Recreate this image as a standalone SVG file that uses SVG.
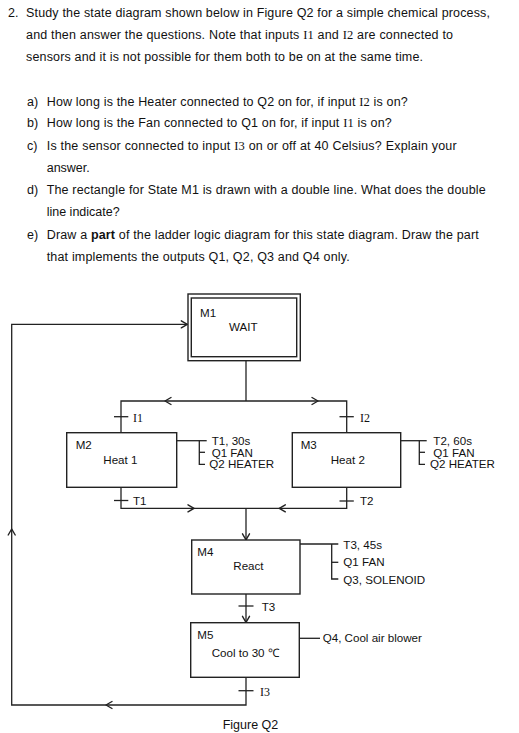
<svg xmlns="http://www.w3.org/2000/svg" xmlns:xlink="http://www.w3.org/1999/xlink" width="519" height="733" viewBox="0 0 519 733">
<style>
  .q { font-family: "Liberation Sans", Arial, sans-serif; font-size: 12.5px; fill: #111; }
  .s { font-family: "Liberation Serif", "Times New Roman", serif; }
  .lbl { font-family: "Liberation Sans", Arial, sans-serif; font-size: 11.6px; fill: #111; }
  .ser { font-family: "Liberation Serif", "Times New Roman", serif; font-size: 12px; fill: #111; }
  .box { fill: #fff; stroke: #222; stroke-width: 1.4; }
  .ln { fill: none; stroke: #222; stroke-width: 1.3; }
  .chev { fill: none; stroke: #222; stroke-width: 1.4; stroke-linejoin: round; stroke-linecap: round; }
</style>
<defs>
  <path id="chev" class="chev" d="M-6,-3.5 L0,0 L-6,3.5"/>
</defs>
<rect width="519" height="733" fill="#fff"/>

<g id="question">
  <text class="q" x="8" y="17">2.</text>
  <text class="q" x="26" y="17" textLength="464" lengthAdjust="spacing">Study the state diagram shown below in Figure Q2 for a simple chemical process,</text>
  <text class="q" x="26" y="39" textLength="427" lengthAdjust="spacing">and then answer the questions. Note that inputs <tspan class="s">I1</tspan> and <tspan class="s">I2</tspan> are connected to</text>
  <text class="q" x="26" y="61" textLength="397" lengthAdjust="spacing">sensors and it is not possible for them both to be on at the same time.</text>

  <text class="q" x="27" y="105.5">a)</text>
  <text class="q" x="46.7" y="105.5" textLength="361" lengthAdjust="spacing">How long is the Heater connected to Q2 on for, if input <tspan class="s">I2</tspan> is on?</text>
  <text class="q" x="27" y="127">b)</text>
  <text class="q" x="46.7" y="127" textLength="345" lengthAdjust="spacing">How long is the Fan connected to Q1 on for, if input <tspan class="s">I1</tspan> is on?</text>
  <text class="q" x="27" y="150">c)</text>
  <text class="q" x="46.7" y="150" textLength="410" lengthAdjust="spacing">Is the sensor connected to input <tspan class="s">I3</tspan> on or off at 40 Celsius?  Explain your</text>
  <text class="q" x="46.7" y="172">answer.</text>
  <text class="q" x="27" y="194">d)</text>
  <text class="q" x="46.7" y="194" textLength="439" lengthAdjust="spacing">The rectangle for State M1 is drawn with a double line. What does the double</text>
  <text class="q" x="46.7" y="216">line indicate?</text>
  <text class="q" x="27" y="238.5">e)</text>
  <text class="q" x="46.7" y="238.5" textLength="432" lengthAdjust="spacing">Draw a <tspan font-weight="bold">part</tspan> of the ladder logic diagram for this state diagram. Draw the part</text>
  <text class="q" x="46.7" y="260.5" textLength="303" lengthAdjust="spacing">that implements the outputs Q1, Q2, Q3 and Q4 only.</text>
</g>

<g id="connectors">
  <!-- loop back to M1 -->
  <polyline class="ln" points="246,677.3 246,705 11.7,705 11.7,324.3 187.5,324.3"/>
  <use xlink:href="#chev" href="#chev" transform="translate(187.3,324.3)"/>
  <use xlink:href="#chev" href="#chev" transform="translate(106,705) rotate(180)"/>
  <use xlink:href="#chev" href="#chev" transform="translate(11.7,529) rotate(-90)"/>
  <!-- M1 split -->
  <line class="ln" x1="246" y1="360.7" x2="246" y2="401"/>
  <polyline class="ln" points="121,432.7 121,401 346.7,401 346.7,432.7"/>
  <use xlink:href="#chev" href="#chev" transform="translate(165,401) rotate(180)"/>
  <use xlink:href="#chev" href="#chev" transform="translate(318,401)"/>
  <!-- merge into M4 -->
  <polyline class="ln" points="121,487.3 121,508.3 346.7,508.3 346.7,487.3"/>
  <use xlink:href="#chev" href="#chev" transform="translate(194,508.3)"/>
  <use xlink:href="#chev" href="#chev" transform="translate(279.3,508.3) rotate(180)"/>
  <line class="ln" x1="246" y1="508.3" x2="246" y2="540"/>
  <use xlink:href="#chev" href="#chev" transform="translate(246,539.8) rotate(90)"/>
  <!-- M4 to M5 -->
  <line class="ln" x1="246" y1="594" x2="246" y2="622.7"/>
  <use xlink:href="#chev" href="#chev" transform="translate(246,622.3) rotate(90)"/>

  <!-- transition ticks -->
  <line class="ln" x1="114" y1="416.7" x2="128.3" y2="416.7"/>
  <text class="ser" x="133" y="421.5">I1</text>
  <line class="ln" x1="339.5" y1="416.7" x2="353.8" y2="416.7"/>
  <text class="ser" x="360" y="421.5">I2</text>
  <line class="ln" x1="114" y1="500.5" x2="128.3" y2="500.5"/>
  <text class="lbl" x="133" y="504.5">T1</text>
  <line class="ln" x1="339.5" y1="501" x2="353.8" y2="501"/>
  <text class="lbl" x="360" y="505">T2</text>
  <line class="ln" x1="238.5" y1="606" x2="253.5" y2="606"/>
  <text class="lbl" x="261.7" y="610.5">T3</text>
  <line class="ln" x1="238.5" y1="690.7" x2="253.5" y2="690.7"/>
  <text class="ser" x="260" y="696">I3</text>
</g>

<g id="M1">
  <rect class="box" x="188" y="294" width="112.3" height="66.7"/>
  <rect class="box" x="191.3" y="298" width="105.4" height="58.7"/>
  <text class="lbl" x="200" y="316.5">M1</text>
  <text class="lbl" x="229" y="330.5">WAIT</text>
</g>

<g id="M2">
  <rect class="box" x="66.7" y="432.7" width="110" height="54.6"/>
  <text class="lbl" x="75.7" y="449.3">M2</text>
  <text class="lbl" x="103.3" y="464">Heat 1</text>
  <polyline class="ln" points="176.7,440.7 206.7,440.7"/>
  <polyline class="ln" points="199.3,440.7 199.3,464.3 205,464.3"/>
  <line class="ln" x1="199.3" y1="452.3" x2="205" y2="452.3"/>
  <text class="lbl" x="211.7" y="445">T1, 30s</text>
  <text class="lbl" x="211.7" y="456.5">Q1 FAN</text>
  <text class="lbl" x="209.3" y="468.3">Q2 HEATER</text>
</g>

<g id="M3">
  <rect class="box" x="292.3" y="432.7" width="108.4" height="54.6"/>
  <text class="lbl" x="300.7" y="449.3">M3</text>
  <text class="lbl" x="330.7" y="464">Heat 2</text>
  <polyline class="ln" points="400.7,440.7 426.7,440.7"/>
  <polyline class="ln" points="419.3,440.7 419.3,464.3 425,464.3"/>
  <line class="ln" x1="419.3" y1="452.3" x2="425" y2="452.3"/>
  <text class="lbl" x="433.3" y="445">T2, 60s</text>
  <text class="lbl" x="433.3" y="456.5">Q1 FAN</text>
  <text class="lbl" x="430" y="468.3">Q2 HEATER</text>
</g>

<g id="M4">
  <rect class="box" x="191.7" y="540" width="108.3" height="54"/>
  <text class="lbl" x="197.3" y="555.5">M4</text>
  <text class="lbl" x="233.3" y="569.5">React</text>
  <polyline class="ln" points="300,544 338.3,544"/>
  <polyline class="ln" points="331.7,544 331.7,579 338.3,579"/>
  <line class="ln" x1="331.7" y1="562.3" x2="338.3" y2="562.3"/>
  <text class="lbl" x="343.3" y="548.5">T3, 45s</text>
  <text class="lbl" x="343.3" y="566">Q1 FAN</text>
  <text class="lbl" x="343.3" y="583.5">Q3, SOLENOID</text>
</g>

<g id="M5">
  <rect class="box" x="190.7" y="622.7" width="108.6" height="54.6"/>
  <text class="lbl" x="197.3" y="638.5">M5</text>
  <text class="lbl" x="211.7" y="657" font-family="'Liberation Sans', 'DejaVu Sans', sans-serif">Cool to 30 ℃</text>
  <line class="ln" x1="299.3" y1="638.3" x2="320" y2="638.3"/>
  <text class="lbl" x="322.7" y="642">Q4, Cool air blower</text>
</g>

<text id="caption" class="q" x="222.7" y="729.3" font-size="13">Figure Q2</text>
</svg>
